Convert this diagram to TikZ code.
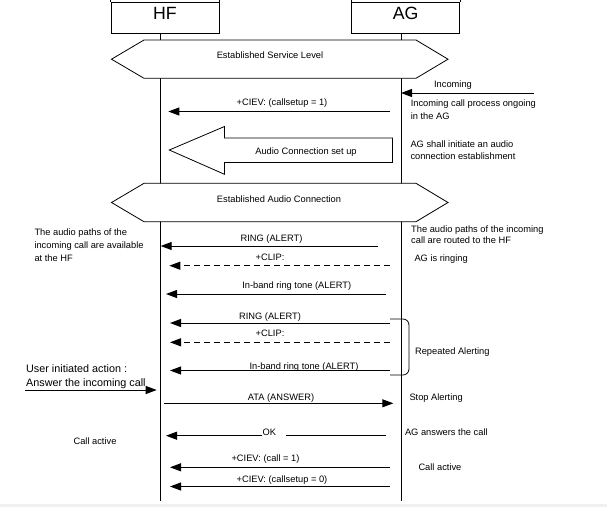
\documentclass[tikz,border=0pt]{standalone}
\usepackage{fontspec}
\setmainfont{Liberation Sans}
\usetikzlibrary{positioning,arrows.meta}

\begin{document}
\begin{tikzpicture}[x=1pt, y=-1pt, line width=1pt,
    >={Triangle[length=11pt,width=8pt]},
    lifebox/.style={
    draw,
    rectangle,
    line width=0.8pt,
    minimum width=108pt,
    minimum height=31pt,
    text height=12.7pt,
    text depth=9pt,
    font=\fontsize{17.7}{20}\selectfont},
    hexa/.style={draw, fill=white, line width=0.8pt},
    msg/.style={->},
    dmsg/.style={->, dash pattern=on 6pt off 4pt},
    lbl/.style={inner sep=0pt, anchor=base, font=\fontsize{9.3}{12}\selectfont},
    side/.style={lbl, anchor=base west},
    note/.style={inner sep=0pt, anchor=north west, align=left}]
    \useasboundingbox (0,0) rectangle (607,507);
    \fill[black!6] (0,503.5) rectangle (607,507);

    \node [lifebox] (HF) at (165,17.8) {HF};
    \node [lifebox] (AG) at (405.6,17.8) {AG};
    \draw [line width=0.8pt] (HF.north west) -- ++(0,-3) (HF.north east) -- ++(0,-3);
    \draw [line width=0.8pt] (AG.north west) -- ++(0,-3) (AG.north east) -- ++(0,-3);

    \coordinate (hfEnd) at (160.7,501.3);
    \coordinate (agEnd) at (401,501.3);
    \draw (HF.south -| hfEnd) -- (hfEnd);
    \draw (AG.south -| agEnd) -- (agEnd);

    % states
    \draw[hexa] (111.5,59.2) -- (144,40) -- (416,40) -- (448,59.2) -- (416,78.3) -- (144,78.3) -- cycle;
    \node [lbl] (SvcLevel) at (270,58) {Established Service Level};
    \draw[hexa] (169.3,150) -- (224.5,126.5) -- (224.5,138) -- (392.5,138) -- (392.5,162.5)
        -- (224.5,162.5) -- (224.5,174.3) -- cycle;
    \node [lbl] (AudioSetup) at (306,154.5) {Audio Connection set up};
    \draw[hexa] (111.5,202.5) -- (144,183.3) -- (416,183.3) -- (448,202.5) -- (416,221.7) -- (144,221.7) -- cycle;
    \node [lbl] (AudioConn) at (279,202.5) {Established Audio Connection};

    % message ends
    \coordinate (incS) at (533.8,93);
    \coordinate (cs1S) at (390,111.5);
    \coordinate (ring1S) at (377.7,246);
    \coordinate (clip1S) at (390,265.7);
    \coordinate (band1S) at (386,294);
    \coordinate (ring2S) at (390,323);
    \coordinate (clip2S) at (390,342.3);
    \coordinate (band2S) at (390,370.5);
    \coordinate (userS) at (25,390);
    \coordinate (ataS) at (164,403.3);
    \coordinate (okS) at (386,435.7);
    \coordinate (callS) at (390,467.3);
    \coordinate (cs0S) at (390,486.5);

    \draw[msg] (incS) -- (incS -| agEnd);
    \node [lbl] (Incoming) at (453,87.2) {Incoming};
    \draw[msg] (cs1S) -- (168.3,111.5 |- cs1S);
    \node [lbl] (Cs1) at (282,105.8) {+CIEV: (callsetup = 1)};
    \draw[msg] (ring1S) -- (ring1S -| hfEnd);
    \node [lbl] (Ring1) at (271.5,241.2) {RING (ALERT)};
    \draw[dmsg] (clip1S) -- (169.3,0 |- clip1S);
    \node [lbl] (Clip1) at (270,260.2) {+CLIP:};
    \draw[msg] (band1S) -- (166,0 |- band1S);
    \node [lbl] (Band1) at (296.7,288.5) {In-band ring tone (ALERT)};
    \draw[msg] (ring2S) -- (170,0 |- ring2S);
    \node [lbl] (Ring2) at (270,319.8) {RING (ALERT)};
    \draw[dmsg] (clip2S) -- (170,0 |- clip2S);
    \node [lbl] (Clip2) at (270,336.8) {+CLIP:};
    \draw[msg] (band2S) -- (170,0 |- band2S);
    \node [lbl] (Band2) at (304,369.2) {In-band ring tone (ALERT)};
    \draw[msg] (userS) -- (156.7,0 |- userS);
    \draw[msg] (ataS) -- (393.3,0 |- ataS);
    \node [lbl] (Ata) at (281,400.2) {ATA (ANSWER)};
    \node [lbl] (Ok) at (269.3,435.2) {OK};
    \draw (okS) -- ([xshift=9pt]Ok.east |- okS);
    \draw[msg] (Ok.west |- okS) -- (166,0 |- okS);
    \draw[msg] (callS) -- (170,0 |- callS);
    \node [lbl] (Call1) at (265.5,461.8) {+CIEV: (call = 1)};
    \draw[msg] (cs0S) -- (170,0 |- cs0S);
    \node [lbl] (Cs0) at (282,482.5) {+CIEV: (callsetup = 0)};

    % repeated alerting
    \coordinate (brTop) at (390,319);
    \coordinate (brBot) at (390,375);
    \draw[line width=0.8pt, rounded corners=6pt] (brTop) -- ++(19,0) |- (brBot);

    % notes HF side
    \node [note, font=\fontsize{9.3}{12.8}\selectfont] (HfPaths) at (34,228.4)
        {The audio paths of the\\incoming call are available\\at the HF};
    \node [note, font=\fontsize{10.8}{13.4}\selectfont] (UserAct) at (25.7,364.4)
        {User initiated action :\\Answer the incoming call};
    \node [lbl] (HfActive) at (95,444.2) {Call active};

    % notes AG side
    \node [note, font=\fontsize{9.3}{13.3}\selectfont] (AgOngoing) at (410.3,99.4)
        {Incoming call process ongoing\\in the AG};
    \node [note, font=\fontsize{9.3}{12.4}\selectfont] (AgInit) at (410,140)
        {AG shall initiate an audio\\connection establishment};
    \node [note, font=\fontsize{9.3}{11}\selectfont] (AgPaths) at (410.7,225)
        {The audio paths of the incoming\\call are routed to the HF};
    \node [side] (AgRinging) at (414,261.2) {AG is ringing};
    \node [side] (Repeated) at (414.6,354.5) {Repeated Alerting};
    \node [side] (StopAlert) at (409,400.2) {Stop Alerting};
    \node [side] (AgAnswers) at (404.5,435.8) {AG answers the call};
    \node [side] (AgActive) at (418,470.2) {Call active};
\end{tikzpicture}
\end{document}
